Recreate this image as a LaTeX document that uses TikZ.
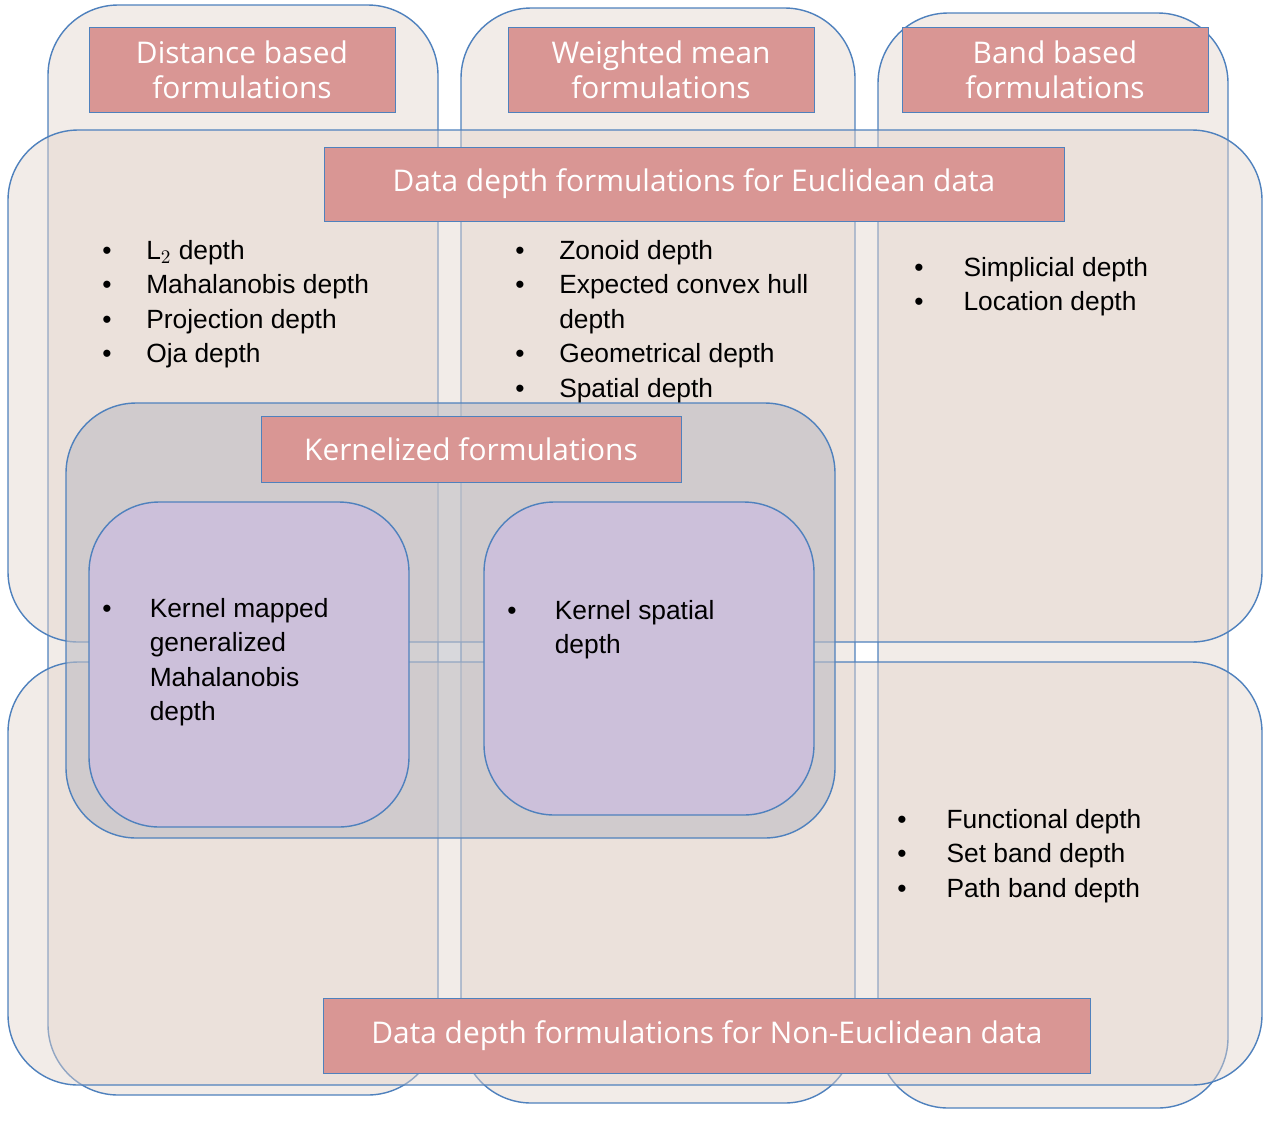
\documentclass[tikz,border=0pt]{standalone}
\usepackage{fontspec}
\setmainfont{Liberation Sans}
\newfontfamily\labelfont{Open Sans}
\definecolor{boxline}{RGB}{79,129,189}
\definecolor{region}{RGB}{226,212,204}
\definecolor{kernelgray}{RGB}{190,190,196}
\definecolor{kernelviolet}{RGB}{204,192,218}
\definecolor{titlered}{RGB}{217,150,148}
\begin{document}
\begin{tikzpicture}[x=0.02cm,y=-0.02cm]
  \tikzset{region/.style = {draw=boxline, fill=region, fill opacity=.45, rounded corners=40pt, line width=.8pt}}
  \tikzset{title/.style = {draw=boxline, fill=titlered, text=white, font=\labelfont\fontsize{17}{20}\selectfont, align=center, inner sep=0pt}}
  \tikzset{items/.style = {anchor=north west, font=\fontsize{15}{19.6}\selectfont, inner sep=0pt}}
  \useasboundingbox (0,0) rectangle (1271,1120);
  % columns and rows
  \draw[region] (48,5) rectangle (438,1095);
  \draw[region] (461,8) rectangle (855,1103);
  \draw[region] (878,13) rectangle (1228,1108);
  \draw[region] (8,130) rectangle (1262,642);
  \draw[region] (8,662) rectangle (1262,1085);
  % kernelized block
  \draw[draw=boxline, fill=kernelgray, fill opacity=.6, rounded corners=40pt, line width=.8pt] (66,403) rectangle (835,838);
  \draw[draw=boxline, fill=kernelviolet, rounded corners=40pt, line width=.8pt] (89,502) rectangle (409,827);
  \draw[draw=boxline, fill=kernelviolet, rounded corners=40pt, line width=.8pt] (484,502) rectangle (814,815);
  % titles
  \node[title, minimum width=306*0.02cm, minimum height=85*0.02cm] (distance) at (242,70) {Distance based\\formulations};
  \node[title, minimum width=306*0.02cm, minimum height=85*0.02cm] (weighted) at (661,70) {Weighted mean\\formulations};
  \node[title, minimum width=306*0.02cm, minimum height=85*0.02cm] (band) at (1055,70) {Band based\\formulations};
  \node[title, minimum width=740*0.02cm, minimum height=74*0.02cm] (euclid) at (694,184) {Data depth formulations for Euclidean data};
  \node[title, minimum width=420*0.02cm, minimum height=66*0.02cm] (kernel) at (471,449) {Kernelized formulations};
  \node[title, minimum width=767*0.02cm, minimum height=75*0.02cm] (noneuclid) at (707,1036) {Data depth formulations for Non-Euclidean data};
  % lists
  \node[items] (distlist) at (102,235) {\begin{tabular}{@{}p{25pt}@{}l@{}}
    \textbullet & L$_2$ depth\\ \textbullet & Mahalanobis depth\\
    \textbullet & Projection depth\\ \textbullet & Oja depth\end{tabular}};
  \node[items] (weightlist) at (515,235) {\begin{tabular}{@{}p{25pt}@{}l@{}}
    \textbullet & Zonoid depth\\ \textbullet & Expected convex hull\\
     & depth\\ \textbullet & Geometrical depth\\ \textbullet & Spatial depth\end{tabular}};
  \node[items] (bandlist) at (914,252) {\begin{tabular}{@{}p{28pt}@{}l@{}}
    \textbullet & Simplicial depth\\ \textbullet & Location depth\end{tabular}};
  \node[items] (funclist) at (897,804) {\begin{tabular}{@{}p{28pt}@{}l@{}}
    \textbullet & Functional depth\\ \textbullet & Set band depth\\
    \textbullet & Path band depth\end{tabular}};
  \node[items] (kmlist) at (102,593) {\begin{tabular}{@{}p{27pt}@{}l@{}}
    \textbullet & Kernel mapped\\ & generalized\\ & Mahalanobis\\ & depth\end{tabular}};
  \node[items] (kslist) at (507,595) {\begin{tabular}{@{}p{27pt}@{}l@{}}
    \textbullet & Kernel spatial\\ & depth\end{tabular}};
\end{tikzpicture}
\end{document}
